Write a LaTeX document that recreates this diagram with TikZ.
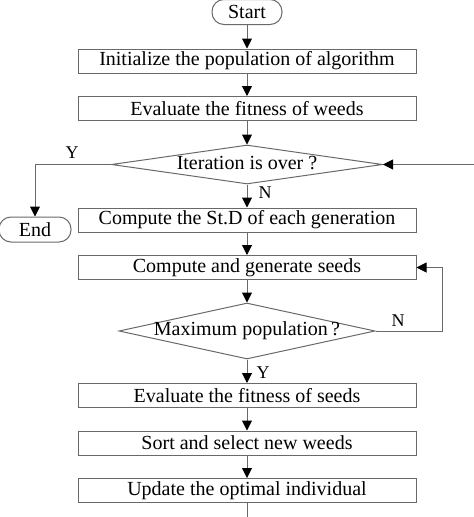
\documentclass[tikz,border=0pt]{standalone}
\usepackage{fontspec}
\setmainfont{Liberation Serif}
\usepackage{tikz}
\usetikzlibrary{arrows.meta, shapes.geometric, positioning, calc}
\definecolor{LineGray}{RGB}{105,105,105}
\tikzset{
  procbox/.style={draw=LineGray, line width=1pt, minimum width=338pt,
    minimum height=24pt, inner sep=0pt, font=\fontsize{20}{24}\selectfont},
  termbox/.style={draw=LineGray, line width=1pt, rounded corners=12pt,
    minimum height=25pt, inner sep=0pt, font=\fontsize{20}{24}\selectfont},
  decide/.style={draw=LineGray, line width=1pt, diamond, inner sep=0pt,
    text height=12pt, text depth=3pt, font=\fontsize{20}{24}\selectfont},
  flow/.style={draw=LineGray, line width=1pt,
    -{Triangle[length=10pt,width=10pt,color=black]}},
  plain/.style={draw=LineGray, line width=1pt},
  yn/.style={font=\fontsize{18}{21}\selectfont, inner sep=0pt}
}
\begin{document}
\begin{tikzpicture}[x=1pt,y=-1pt]
  \useasboundingbox (0,0) rectangle (474,517);
  % terminals
  \node[termbox, minimum width=70pt] (start) at (247,12) {Start};
  \node[termbox, minimum width=72pt] (end) at (35,229.5) {End};
  % main column
  \node[procbox] (init) at (247,61) {Initialize the population of algorithm};
  \node[procbox] (evalw) at (247,108.5) {Evaluate the fitness of weeds};
  \node[decide, minimum width=271pt, minimum height=39pt, shape aspect=7]
    (iter) at (247,164.5) {Iteration is over ?};
  \node[procbox] (std) at (247,220) {Compute the St.D of each generation};
  \node[procbox] (seeds) at (247,267.5) {Compute and generate seeds};
  \node[decide, minimum width=256pt, minimum height=56pt, shape aspect=4.57]
    (maxpop) at (247,331) {Maximum population\,?};
  \node[procbox] (evals) at (247,395.5) {Evaluate the fitness of seeds};
  \node[procbox] (sort) at (247,443) {Sort and select new weeds};
  \node[procbox] (update) at (247,490.5) {Update the optimal individual};
  % free ends
  \coordinate (feed) at (474,164.5);
  \coordinate (loop) at (442,267.5);
  \coordinate (bottom) at (247,517);
  % connectors
  \draw[flow] (start) -- (init);
  \draw[flow] (init) -- (evalw);
  \draw[flow] (evalw) -- (iter);
  \draw[flow] (iter) -- (std);
  \draw[flow] (std) -- (seeds);
  \draw[flow] (seeds) -- (maxpop);
  \draw[flow] (maxpop) -- (evals);
  \draw[flow] (evals) -- (sort);
  \draw[flow] (sort) -- (update);
  \draw[plain] (update) -- (bottom);
  \draw[flow] (iter.west) -| (end.north);
  \draw[flow] (feed) -- (iter.east);
  \draw[flow] (maxpop.east) -| (loop) -- (seeds.east);
  % branch labels
  \node[yn] (iterY) at (72,153) {Y};
  \node[yn] (iterN) at (265,193) {N};
  \node[yn] (maxN) at (398,321) {N};
  \node[yn] (maxY) at (263,373) {Y};
\end{tikzpicture}
\end{document}
